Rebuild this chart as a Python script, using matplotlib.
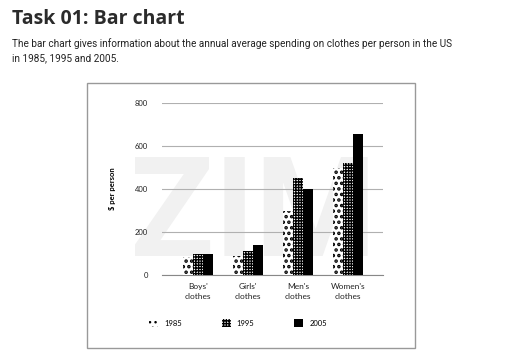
import matplotlib.pyplot as plt
import matplotlib.patches as mpatches
import numpy as np

plt.rcParams['font.family'] = ['Lato', 'DejaVu Sans']

# Dados
categorias = ["Boys'\nclothes", "Girls'\nclothes", "Men's\nclothes", "Women's\nclothes"]
anos = ['1985', '1995', '2005']
gasto_1985 = [85, 90, 300, 500]
gasto_1995 = [100, 110, 450, 520]
gasto_2005 = [100, 140, 400, 655]
yticks = [0, 200, 400, 600, 800]

W, H = 512, 354
fig = plt.figure(figsize=(W / 100, H / 100), dpi=100)

# Cabeçalho
fig.text(12 / W, 1 - 19 / H, 'Task 01: Bar chart', fontsize=14, fontweight='bold',
         color='#2b2b2b', va='center', family=['Open Sans', 'DejaVu Sans'])
fig.text(12 / W, 1 - 44 / H, 'The bar chart gives information about the annual average spending on clothes per person in the US',
         fontsize=7.2, color='#222222', va='center', family='Roboto')
fig.text(12 / W, 1 - 58 / H, 'in 1985, 1995 and 2005.',
         fontsize=7.2, color='#222222', va='center', family='Roboto')

# Moldura
fig.patches.append(mpatches.Rectangle((87 / W, 1 - 348 / H), (415 - 87) / W, (348 - 83) / H,
                                      transform=fig.transFigure, fill=False,
                                      edgecolor='#999999', linewidth=1))

# Marca d'água
fig.text(253 / W, 1 - 218 / H, 'ZIM', fontsize=100, color='#f1f1f1', ha='center', va='center',
         family='Roboto', fontweight='bold', zorder=-5)

ax = fig.add_axes([162 / W, 1 - 275 / H, (383 - 162) / W, (275 - 103) / H])
ax.patch.set_alpha(0)
ax.set_zorder(2)

x = np.arange(len(categorias))
largura = 0.2
with plt.rc_context({'hatch.linewidth': 1.7}):
    ax.bar(x - largura, gasto_1985, largura, color='white', edgecolor='black', hatch='...',
           linewidth=0, zorder=3)
    h85 = mpatches.Patch(facecolor='white', edgecolor='black', hatch='...', linewidth=0)
with plt.rc_context({'hatch.linewidth': 1.0}):
    ax.bar(x, gasto_1995, largura, color='white', edgecolor='black', hatch='++++++',
           linewidth=0, zorder=3)
    h95 = mpatches.Patch(facecolor='white', edgecolor='black', hatch='++++++', linewidth=0)
ax.bar(x + largura, gasto_2005, largura, color='black', edgecolor='black', linewidth=0, zorder=3)
h05 = mpatches.Patch(facecolor='black', edgecolor='black', linewidth=0)

ax.set_ylim(0, 800)
ax.set_xlim(-0.72, 3.7)
ax.set_yticks(yticks)
ax.yaxis.grid(True, color='#b0b0b0', linewidth=0.8, zorder=0)
ax.set_axisbelow(True)
for s in ['top', 'right', 'left']:
    ax.spines[s].set_visible(False)
ax.spines['bottom'].set_color('#888888')
ax.tick_params(axis='both', length=0, labelsize=5.5, colors='#222222')
ax.tick_params(axis='y', pad=10)
ax.set_xticks(x)
ax.set_xticklabels(categorias, fontsize=6, linespacing=1.4)
ax.tick_params(axis='x', pad=6)
ax.set_ylabel('$ per person', fontsize=5.5, fontweight='bold', labelpad=14)

# Legenda
fig.legend([h85, h95, h05], anos, loc='center', bbox_to_anchor=(238 / W, 1 - 323 / H), ncol=3,
           frameon=False, fontsize=5.5, handlelength=1.2, handleheight=1.2,
           columnspacing=5.2, handletextpad=0.8)

fig.savefig('out.png', dpi=100)
